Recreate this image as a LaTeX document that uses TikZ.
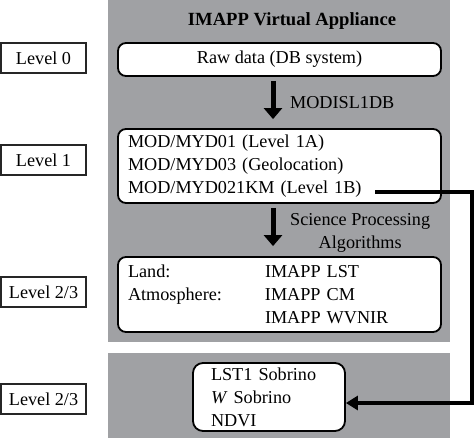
\documentclass[tikz,border=0pt]{standalone}
\usepackage{fontspec}
\setmainfont{Liberation Serif}
\usepackage{tikz}
\usetikzlibrary{arrows.meta}
\definecolor{panelgray}{RGB}{160,161,164}

\begin{document}
\begin{tikzpicture}[x=0.5pt,y=-0.5pt,
	font=\fontsize{9.1}{11.5}\selectfont,
	level/.style={draw=black!85,line width=0.8pt,fill=white,minimum width=42.5pt,minimum height=15pt,inner sep=0pt},
	stage/.style={draw,line width=0.9pt,fill=white,rounded corners=4pt,inner sep=0pt},
	flow/.style={line width=2.5pt,-{Triangle[width=9pt,length=5.5pt]}},
	link/.style={line width=2pt,-{Triangle[width=7pt,length=6pt]}}]
	\useasboundingbox (0,0) rectangle (474,438);
	\fill[panelgray] (108,0) rectangle (450,342);
	\fill[panelgray] (108,353) rectangle (450,438);
	
	\node[font=\fontsize{9.3}{11.5}\selectfont\bfseries] (title) at (292,21) {IMAPP Virtual Appliance};
	\node[stage,minimum width=161.5pt,minimum height=16.5pt] (raw) at (279.5,59.5) {Raw data (DB system)};
	\node[stage,text width=151.5pt,inner xsep=5pt,minimum height=37pt,align=left] (lone) at (279.5,166) {MOD/MYD01 (Level 1A)\\MOD/MYD03 (Geolocation)\\MOD/MYD021KM (Level 1B)};
	\node[stage,text width=151.5pt,inner xsep=5pt,minimum height=37.5pt,align=left] (ltwo) at (279.5,294.5) {\makebox[68.5pt][l]{Land:}IMAPP LST\\\makebox[68.5pt][l]{Atmosphere:}IMAPP CM\\\hspace*{68.5pt}IMAPP WVNIR};
	\node[stage,text width=58pt,inner xsep=9pt,minimum height=34pt,align=left,rounded corners=5pt] (lst) at (269,397) {LST1 Sobrino\\\textit{W} Sobrino\\NDVI};
	
	\node[level] (lv0) at (43.5,58) {Level 0};
	\node[level] (lv1) at (43.5,160) {Level 1};
	\node[level] (lv2) at (43.5,292) {Level 2/3};
	\node[level] (lv3) at (43.5,399) {Level 2/3};
	
	\draw [flow, shorten <=2pt, shorten >=4.5pt] ([xshift=-3.25pt]raw.south) -- node[right=4pt] {MODISL1DB} ([xshift=-3.25pt]lone.north);
	\draw [flow, shorten <=2pt, shorten >=5pt] ([xshift=-3.25pt]lone.south) -- node[right=4pt,align=center,yshift=-1.5pt] {Science Processing\\Algorithms} ([xshift=-3.25pt]ltwo.north);
	
	\coordinate (tap) at (375,192);
	\draw [link] (tap) -- ++(97,0) |- ([yshift=-3pt]lst.east);
	
\end{tikzpicture}
\end{document}
